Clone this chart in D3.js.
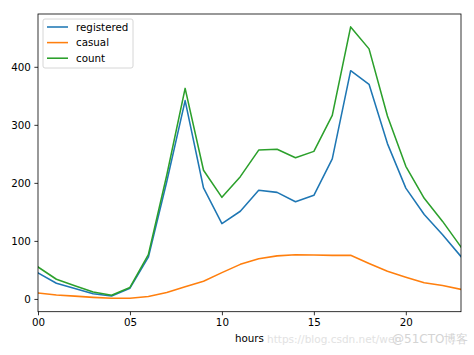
<!DOCTYPE html>
<html><head><meta charset="utf-8">
<script src="https://cdn.jsdelivr.net/npm/d3@7"></script>
<style>body{margin:0;background:#fff}svg{display:block}text{font-family:"DejaVu Sans",sans-serif}</style>
</head><body><svg id="c" width="474" height="355"></svg>
<script>
const hours = d3.range(0, 24);
const registered = [44.8, 27.0, 18.1, 9.0, 5.1, 18.5, 71.9, 202.0, 341.8, 191.2, 129.7, 151.1, 187.3, 183.6, 167.4, 178.6, 241.3, 393.3, 369.8, 267.7, 191.0, 145.5, 110.6, 73.0];
const casual = [10.3, 6.9, 4.8, 2.7, 1.3, 1.3, 4.3, 11.1, 21.0, 30.6, 45.4, 59.6, 69.2, 74.2, 76.1, 75.7, 75.1, 75.4, 61.1, 47.6, 37.5, 27.9, 23.0, 16.5];
const count = [55.1, 33.9, 22.9, 11.8, 6.4, 19.8, 76.3, 213.1, 362.8, 221.8, 175.1, 210.7, 256.5, 257.8, 243.4, 254.3, 316.4, 468.8, 430.9, 315.3, 228.5, 173.4, 133.6, 89.5];
const seriesNames = ["registered", "casual", "count"];
const seriesColors = ["#1f77b4", "#ff7f0e", "#2ca02c"];
const xTicks = [0, 5, 10, 15, 20];
const yTicks = [0, 100, 200, 300, 400];

const svg = d3.select("#c");
const L = 38, R = 461, T = 14, B = 311.7;
const x = d3.scaleLinear().domain([0, 23]).range([L, R]);
const y = d3.scaleLinear().domain([-22, 491]).range([B, T]);

const fs = "10.3px";
const xa = svg.append("g").attr("transform", `translate(0,${B})`)
  .call(d3.axisBottom(x).tickValues(xTicks).tickFormat(d => String(d).padStart(2, "0")).tickSize(3.6).tickPadding(3.5));
const ya = svg.append("g").attr("transform", `translate(${L},0)`)
  .call(d3.axisLeft(y).tickValues(yTicks).tickSize(3.6).tickPadding(3.5));
[xa, ya].forEach(a => {
  a.select(".domain").remove();
  a.selectAll("line").attr("stroke", "#000").attr("stroke-width", 0.8);
  a.selectAll("text").attr("font-size", fs).attr("fill", "#000").attr("font-family", "DejaVu Sans");
});

const data = [registered, casual, count];
const line = d3.line().x((d, i) => x(hours[i])).y(d => y(d));
svg.append("defs").append("clipPath").attr("id", "clip").append("rect")
  .attr("x", L).attr("y", T).attr("width", R - L).attr("height", B - T);
data.forEach((s, k) => {
  svg.append("path").datum(s).attr("d", line).attr("fill", "none")
    .attr("stroke", seriesColors[k]).attr("stroke-width", 1.55)
    .attr("stroke-linejoin", "round").attr("stroke-linecap", "square")
    .attr("clip-path", "url(#clip)");
});

svg.append("rect").attr("x", L).attr("y", T).attr("width", R - L).attr("height", B - T)
  .attr("fill", "none").attr("stroke", "#000").attr("stroke-width", 0.8);

// legend
const lg = svg.append("g");
lg.append("rect").attr("x", 43).attr("y", 19).attr("width", 90).attr("height", 49)
  .attr("rx", 2).attr("fill", "#fff").attr("fill-opacity", 0.8)
  .attr("stroke", "#ccc").attr("stroke-width", 0.8);
seriesNames.forEach((n, k) => {
  const yy = 27 + k * 15.6;
  lg.append("line").attr("x1", 47).attr("x2", 68).attr("y1", yy).attr("y2", yy)
    .attr("stroke", seriesColors[k]).attr("stroke-width", 1.55);
  lg.append("text").attr("x", 76).attr("y", yy).attr("dy", "0.36em")
    .attr("font-size", fs).attr("fill", "#000").text(n);
});

svg.append("text").attr("x", (L + R) / 2).attr("y", 342).attr("text-anchor", "middle")
  .attr("font-size", fs).attr("fill", "#000").text("hours");

// watermark
svg.append("text").attr("x", 267).attr("y", 343).attr("font-size", "10.5px")
  .attr("fill", "#e2e2e2").attr("font-family", "Arial, Liberation Sans").text("https://blog.csdn.net/wei");
svg.append("text").attr("x", 392).attr("y", 343).attr("font-size", "12px")
  .attr("fill", "#d4d4d4").attr("font-family", "Arial, Noto Sans CJK SC").text("@51CTO博客");
</script></body></html>
